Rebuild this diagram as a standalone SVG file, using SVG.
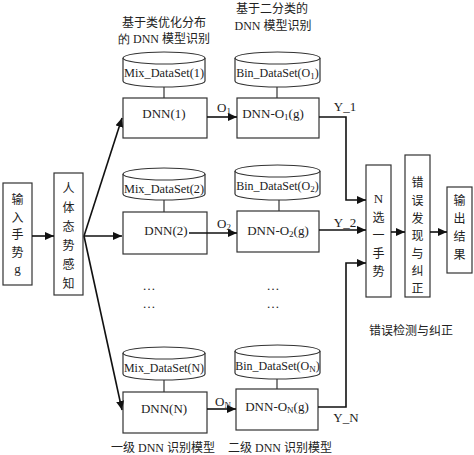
<svg xmlns="http://www.w3.org/2000/svg" width="474" height="455" viewBox="0 0 474 455">
<style>
.box{fill:#fff;stroke:#333;stroke-width:1.2}
.cyl{fill:#fff;stroke:#333;stroke-width:1.2}
.t{font-family:"Liberation Serif","Noto Sans CJK SC",serif;font-size:13px;fill:#222;text-anchor:middle}
.d{font-family:"Liberation Serif","Noto Sans CJK SC",serif;font-size:12.5px;fill:#222;text-anchor:middle}
.b{font-family:"Liberation Serif","Noto Sans CJK SC",serif;font-size:12px;fill:#222;text-anchor:middle}
.c{font-family:"Noto Sans CJK SC","Liberation Serif",serif;font-size:12px;fill:#222;text-anchor:middle}
.v{font-family:"Noto Sans CJK SC","Liberation Serif",serif;font-size:12px;fill:#222;text-anchor:middle}
.ln{fill:none;stroke:#111;stroke-width:1.6}
.lc{fill:none;stroke:#333;stroke-width:1.2}
.sub{font-size:9px}
</style>
<defs>
<marker id="ah" markerUnits="userSpaceOnUse" markerWidth="9" markerHeight="8" refX="9" refY="4" orient="auto">
<path d="M0,0 L9,4 L0,8 z" fill="#111"/>
</marker>
</defs>
<rect width="474" height="455" fill="#fff"/>

<g id="labels">
<text class="c" x="164" y="27">基于类优化分布</text>
<text class="c" x="164" y="43"><tspan font-family="Liberation Serif">的 DNN </tspan>模型识别</text>
<text class="c" x="272" y="13">基于二分类的</text>
<text class="c" x="273" y="30"><tspan font-family="Liberation Serif">DNN </tspan>模型识别</text>
<text class="c" x="163" y="452">一级<tspan font-family="Liberation Serif"> DNN </tspan>识别模型</text>
<text class="c" x="280" y="452">二级<tspan font-family="Liberation Serif"> DNN </tspan>识别模型</text>
<text class="c" x="411" y="335">错误检测与纠正</text>
<text class="t" x="149" y="290">…</text>
<text class="t" x="149" y="308">…</text>
<text class="t" x="273" y="290">…</text>
<text class="t" x="273" y="308">…</text>
</g>

<g id="input">
<rect class="box" x="3" y="183" width="29" height="102"/>
<text class="v" x="17.5" y="204">输</text>
<text class="v" x="17.5" y="221.5">入</text>
<text class="v" x="17.5" y="239">手</text>
<text class="v" x="17.5" y="256.5">势</text>
<text class="t" x="17.5" y="273">g</text>
</g>

<g id="perception">
<rect class="box" x="54" y="173" width="29" height="122"/>
<text class="v" x="68.5" y="193">人</text>
<text class="v" x="68.5" y="212">体</text>
<text class="v" x="68.5" y="231">态</text>
<text class="v" x="68.5" y="250">势</text>
<text class="v" x="68.5" y="269">感</text>
<text class="v" x="68.5" y="288">知</text>
</g>

<g id="mix1">
<path class="cyl" d="M123,58 V81 A41,6 0 0 0 205,81 V58"/>
<ellipse class="cyl" cx="164" cy="58" rx="41" ry="6"/>
<text class="d" x="164" y="77" textLength="80" lengthAdjust="spacingAndGlyphs">Mix_DataSet(1)</text>
</g>
<g id="dnn1">
<rect class="box" x="123" y="98" width="84" height="40"/>
<text class="t" x="164" y="118">DNN(1)</text>
</g>
<g id="bin1">
<path class="cyl" d="M235,58 V81 A42.5,6 0 0 0 320,81 V58"/>
<ellipse class="cyl" cx="277.5" cy="58" rx="42.5" ry="6"/>
<text class="b" x="277.5" y="77">Bin_DataSet(O<tspan class="sub" dy="2">1</tspan><tspan dy="-2">)</tspan></text>
</g>
<g id="dnno1">
<rect class="box" x="237" y="98" width="82" height="40"/>
<text class="t" x="273" y="118">DNN-O<tspan class="sub" dy="2">1</tspan><tspan dy="-2">(g)</tspan></text>
</g>

<g id="mix2">
<path class="cyl" d="M123,174 V194 A41,6 0 0 0 205,194 V174"/>
<ellipse class="cyl" cx="164" cy="174" rx="41" ry="6"/>
<text class="d" x="164" y="193" textLength="80" lengthAdjust="spacingAndGlyphs">Mix_DataSet(2)</text>
</g>
<g id="dnn2">
<rect class="box" x="123" y="212" width="84" height="42"/>
<text class="t" x="166" y="235">DNN(2)</text>
</g>
<g id="bin2">
<path class="cyl" d="M235,171 V194 A42.5,6 0 0 0 320,194 V171"/>
<ellipse class="cyl" cx="277.5" cy="171" rx="42.5" ry="6"/>
<text class="b" x="277.5" y="190">Bin_DataSet(O<tspan class="sub" dy="2">2</tspan><tspan dy="-2">)</tspan></text>
</g>
<g id="dnno2">
<rect class="box" x="237" y="211" width="82" height="41"/>
<text class="t" x="278" y="235">DNN-O<tspan class="sub" dy="2">2</tspan><tspan dy="-2">(g)</tspan></text>
</g>

<g id="mixN">
<path class="cyl" d="M123,353 V374 A41,6 0 0 0 205,374 V353"/>
<ellipse class="cyl" cx="164" cy="353" rx="41" ry="6"/>
<text class="d" x="164" y="372" textLength="80" lengthAdjust="spacingAndGlyphs">Mix_DataSet(N)</text>
</g>
<g id="dnnN">
<rect class="box" x="123" y="392" width="84" height="41"/>
<text class="t" x="164" y="413">DNN(N)</text>
</g>
<g id="binN">
<path class="cyl" d="M235,351 V373 A42.5,6 0 0 0 320,373 V351"/>
<ellipse class="cyl" cx="277.5" cy="351" rx="42.5" ry="6"/>
<text class="b" x="277.5" y="370">Bin_DataSet(O<tspan class="sub" dy="2">N</tspan><tspan dy="-2">)</tspan></text>
</g>
<g id="dnnoN">
<rect class="box" x="236" y="389" width="82" height="41"/>
<text class="t" x="277" y="411">DNN-O<tspan class="sub" dy="2">N</tspan><tspan dy="-2">(g)</tspan></text>
</g>

<g id="select">
<rect class="box" x="366" y="165" width="25" height="132"/>
<text class="t" x="378.5" y="203">N</text>
<text class="v" x="378.5" y="222">选</text>
<text class="v" x="378.5" y="240">一</text>
<text class="v" x="378.5" y="258">手</text>
<text class="v" x="378.5" y="276">势</text>
</g>

<g id="error">
<rect class="box" x="405" y="155" width="25" height="142"/>
<text class="v" x="417.5" y="187">错</text>
<text class="v" x="417.5" y="205">误</text>
<text class="v" x="417.5" y="222.5">发</text>
<text class="v" x="417.5" y="240">现</text>
<text class="v" x="417.5" y="257.5">与</text>
<text class="v" x="417.5" y="275">纠</text>
<text class="v" x="417.5" y="292.5">正</text>
</g>

<g id="output">
<rect class="box" x="447" y="187" width="25" height="86"/>
<text class="v" x="459.5" y="205">输</text>
<text class="v" x="459.5" y="223">出</text>
<text class="v" x="459.5" y="241">结</text>
<text class="v" x="459.5" y="259">果</text>
</g>

<g id="connectors">
<path class="ln" d="M32,236 H54" marker-end="url(#ah)"/>
<path class="ln" d="M84,236 L122,118" marker-end="url(#ah)"/>
<path class="ln" d="M84,236 H122" marker-end="url(#ah)"/>
<path class="ln" d="M84,236 L122,410" marker-end="url(#ah)"/>
<path class="lc" d="M164,87 V98"/>
<path class="lc" d="M164,200 V212"/>
<path class="lc" d="M164,380 V392"/>
<path class="lc" d="M277,87 V98"/>
<path class="lc" d="M279,200 V211"/>
<path class="lc" d="M277,379 V389"/>
<path class="ln" d="M207,117 H237" marker-end="url(#ah)"/>
<path class="ln" d="M189,233 H237" marker-end="url(#ah)"/>
<path class="ln" d="M207,409 H236" marker-end="url(#ah)"/>
<path class="ln" d="M319,117 H346 V200 H366" marker-end="url(#ah)"/>
<path class="ln" d="M319,230 H366" marker-end="url(#ah)"/>
<path class="ln" d="M318,407 H346 V263 H366" marker-end="url(#ah)"/>
<path class="ln" d="M391,232 H405" marker-end="url(#ah)"/>
<path class="ln" d="M430,232 H447" marker-end="url(#ah)"/>
<text class="t" x="224" y="112">O<tspan class="sub" dy="2">1</tspan></text>
<text class="t" x="224" y="228">O<tspan class="sub" dy="2">2</tspan></text>
<text class="t" x="223" y="406">O<tspan class="sub" dy="2">N</tspan></text>
<text class="t" x="345" y="111">Y_1</text>
<text class="t" x="345" y="227">Y_2</text>
<text class="t" x="346" y="422">Y_N</text>
</g>
</svg>
